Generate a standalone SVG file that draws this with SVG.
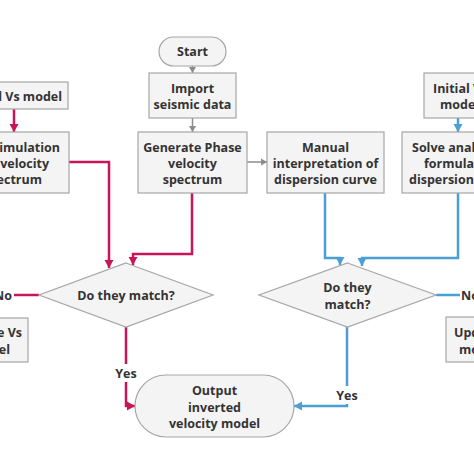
<svg xmlns="http://www.w3.org/2000/svg" width="474" height="474" viewBox="0 0 474 474">
<style>
.box{fill:#f4f4f4;stroke:#a6a6a6;stroke-width:1.2}
.t{font-family:"Open Sans","Noto Sans","Liberation Sans",sans-serif;font-weight:bold;font-size:12.5px;fill:#333;text-anchor:middle;dominant-baseline:central}
.e{text-anchor:end}
.s{text-anchor:start}
.red{fill:none;stroke:#c8155a;stroke-width:2.5}
.blue{fill:none;stroke:#4a9fd6;stroke-width:2.5}
.gray{fill:none;stroke:#8c8c8c;stroke-width:1.5}
</style>
<defs>
<marker id="ar" markerUnits="userSpaceOnUse" markerWidth="10" markerHeight="10" refX="8" refY="5" orient="auto"><path d="M0,0.5 L8,5 L0,9.5 Z" fill="#c8155a"/></marker>
<marker id="ab" markerUnits="userSpaceOnUse" markerWidth="10" markerHeight="10" refX="8" refY="5" orient="auto"><path d="M0,0.5 L8,5 L0,9.5 Z" fill="#4a9fd6"/></marker>
<marker id="ag" markerUnits="userSpaceOnUse" markerWidth="8" markerHeight="8" refX="6" refY="4" orient="auto"><path d="M0,0.5 L6,4 L0,7.5 Z" fill="#8c8c8c"/></marker>
</defs>
<rect width="474" height="474" fill="#fff"/>
<g id="connectors">
<line class="gray" x1="192.5" y1="66" x2="192.5" y2="73" marker-end="url(#ag)"/>
<line class="gray" x1="192.5" y1="118" x2="192.5" y2="132" marker-end="url(#ag)"/>
<line class="gray" x1="247" y1="162" x2="267" y2="162" marker-end="url(#ag)"/>
<line class="red" x1="14" y1="109" x2="14" y2="132" marker-end="url(#ar)"/>
<polyline class="red" points="69,162 109,162 109,268" marker-end="url(#ar)"/>
<polyline class="red" points="192,193 192,254 133,254 133,265" marker-end="url(#ar)"/>
<line class="red" x1="39" y1="295" x2="14" y2="295"/>
<polyline class="red" points="126,327 126,406 135,406" marker-end="url(#ar)"/>
<line class="blue" x1="458" y1="118" x2="458" y2="132" marker-end="url(#ab)"/>
<polyline class="blue" points="325,193 325,258 340,258 340,265" marker-end="url(#ab)"/>
<polyline class="blue" points="458,193 458,258 362,258 362,266" marker-end="url(#ab)"/>
<line class="blue" x1="436" y1="295" x2="460" y2="295"/>
<polyline class="blue" points="347,327 347,406 294,406" marker-end="url(#ab)"/>
<rect x="113" y="364" width="26" height="18" fill="#fff"/>
<text class="t" x="126" y="373">Yes</text>
<rect x="334" y="386" width="26" height="18" fill="#fff"/>
<text class="t" x="347" y="395">Yes</text>
<text class="t e" x="12" y="295">No</text>
<text class="t s" x="461" y="295">No</text>
</g>
<g id="start"><rect class="box" x="159" y="37" width="67" height="29" rx="14.5"/><text class="t" x="192.5" y="51.5">Start</text></g>
<g id="import"><rect class="box" x="149" y="73" width="87" height="45"/><text class="t" x="192.5" y="88">Import</text><text class="t" x="192.5" y="104">seismic data</text></g>
<g id="generate"><rect class="box" x="138" y="132" width="109" height="61"/><text class="t" x="192.5" y="147">Generate Phase</text><text class="t" x="192.5" y="163">velocity</text><text class="t" x="192.5" y="179">spectrum</text></g>
<g id="manual"><rect class="box" x="267" y="132" width="117" height="61"/><text class="t" x="325.5" y="147">Manual</text><text class="t" x="325.5" y="163">interpretation of</text><text class="t" x="325.5" y="179">dispersion curve</text></g>
<g id="initial-left"><rect class="box" x="-60" y="82" width="128" height="27"/><text class="t e" x="62" y="96">l Vs model</text></g>
<g id="simulation"><rect class="box" x="-60" y="132" width="129" height="61"/><text class="t e" x="60" y="147">simulation</text><text class="t e" x="49" y="163">velocity</text><text class="t e" x="42" y="179">ectrum</text></g>
<g id="update-left"><rect class="box" x="-60" y="318" width="88" height="44"/><text class="t e" x="22" y="332">e Vs</text><text class="t e" x="10" y="349">el</text></g>
<g id="initial-right"><rect class="box" x="424" y="73" width="80" height="45"/><text class="t s" x="433" y="88">Initial V</text><text class="t s" x="440" y="104">mode</text></g>
<g id="solve"><rect class="box" x="402" y="132" width="100" height="61"/><text class="t s" x="412" y="147">Solve anal</text><text class="t s" x="424" y="163">formula</text><text class="t s" x="409" y="179">dispersion</text></g>
<g id="update-right"><rect class="box" x="446" y="317" width="60" height="45"/><text class="t s" x="454" y="332">Upd</text><text class="t s" x="459" y="349">mo</text></g>
<g id="match-left"><polygon class="box" points="126,263 213,295 126,327 39,295"/><text class="t" x="126" y="295">Do they match?</text></g>
<g id="match-right"><polygon class="box" points="347.5,263 436,295 347.5,327 259,295"/><text class="t" x="347.5" y="287">Do they</text><text class="t" x="347.5" y="304">match?</text></g>
<g id="output"><rect class="box" x="135" y="375" width="159" height="62" rx="31"/><text class="t" x="214.5" y="390">Output</text><text class="t" x="214.5" y="407">inverted</text><text class="t" x="214.5" y="423">velocity model</text></g>
</svg>
